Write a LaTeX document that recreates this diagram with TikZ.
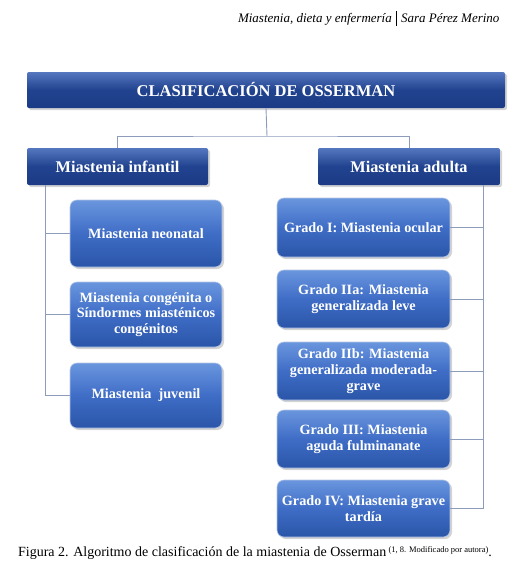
\documentclass[tikz,border=0pt]{standalone}
\usepackage{fontspec}
\setmainfont{Liberation Serif}
\usetikzlibrary{shadows}

\begin{document}
\begin{tikzpicture}[x=1pt,y=-1pt,
    topbox/.style={rectangle, rounded corners=2pt, draw=none,
      top color=navytop, bottom color=navybot, middle color=navymid,
      drop shadow={shadow xshift=2pt, shadow yshift=-2pt, opacity=0.35},
      text=white, align=center, inner sep=0pt},
    subbox/.style={rectangle, rounded corners=7pt, draw=white!60!bluemid, line width=0.6pt,
      top color=bluetop, bottom color=bluebot, middle color=bluemid,
      drop shadow={shadow xshift=2pt, shadow yshift=-2pt, opacity=0.35},
      text=white, font=\bfseries\fontsize{14.2}{15.8}\selectfont, align=center, inner sep=0pt},
    link/.style={draw=linkgray, line width=0.9pt}]
  \definecolor{navytop}{HTML}{5577C0}
  \definecolor{navymid}{HTML}{21438F}
  \definecolor{navybot}{HTML}{1C3A86}
  \definecolor{bluetop}{HTML}{6A96DE}
  \definecolor{bluemid}{HTML}{3F6DC6}
  \definecolor{bluebot}{HTML}{2A55A8}
  \definecolor{linkgray}{HTML}{8E9CBB}
  \useasboundingbox (0,0) rectangle (520,562);

  \node[anchor=east, font=\itshape\fontsize{13}{14}\selectfont] (head) at (503,18)
    {Miastenia, dieta y enfermería \hspace{1pt}\rule[-3.5pt]{0.7pt}{15pt}\hspace{1pt} Sara Pérez Merino};

  \node[topbox, minimum width=478, minimum height=36,
    font=\bfseries\fontsize{16.5}{18}\selectfont] (title) at (266,90) {CLASIFICACIÓN DE OSSERMAN};

  \node[topbox, minimum width=181, minimum height=37,
    font=\bfseries\fontsize{16.3}{18}\selectfont] (infantil) at (117.5,166.5) {Miastenia infantil};
  \node[topbox, minimum width=182, minimum height=37,
    font=\bfseries\fontsize{16.3}{18}\selectfont] (adulta) at (409,166.5) {Miastenia adulta};

  % infantil
  \node[subbox, minimum width=152, minimum height=67] (neonatal) at (146,233.5) {Miastenia neonatal};
  \node[subbox, minimum width=152, minimum height=65] (congenita) at (146,314.5)
    {Miastenia congénita o\\Síndormes miasténicos\\congénitos};
  \node[subbox, minimum width=152, minimum height=65] (juvenil) at (146,395.5) {Miastenia \ juvenil};

  % adulta
  \node[subbox, minimum width=173, minimum height=59] (grado1) at (363.5,227.5) {Grado I: Miastenia ocular};
  \node[subbox, minimum width=173, minimum height=58] (grado2a) at (363.5,299) {Grado IIa: Miastenia\\generalizada leve};
  \node[subbox, minimum width=173, minimum height=58] (grado2b) at (363.5,371) {Grado IIb: Miastenia\\generalizada moderada-\\grave};
  \node[subbox, minimum width=173, minimum height=58] (grado3) at (363.5,439) {Grado III: Miastenia\\aguda fulminanate};
  \node[subbox, minimum width=173, minimum height=57] (grado4) at (363.5,508.5) {Grado IV: Miastenia grave\\tardía};

  \coordinate (split) at (267,136);
  \coordinate (lspine) at (45,185);
  \coordinate (rspine) at (483,185);

  \draw[link] (title.south) -- (split);
  \draw[link] (infantil.north) |- (split) -| (adulta.north);
  \foreach \n in {neonatal,congenita,juvenil}
    \draw[link] (lspine) |- (\n.west);
  \foreach \n in {grado1,grado2a,grado2b,grado3,grado4}
    \draw[link] (rspine) |- (\n.east);

  \node[font=\fontsize{14}{15}\selectfont] (caption) at (255,553)
    {Figura 2. Algoritmo de clasificación de la miastenia de Osserman\,\raisebox{4.5pt}{\fontsize{8.5}{9}\selectfont(1, 8. Modificado por autora)}.};
\end{tikzpicture}
\end{document}
